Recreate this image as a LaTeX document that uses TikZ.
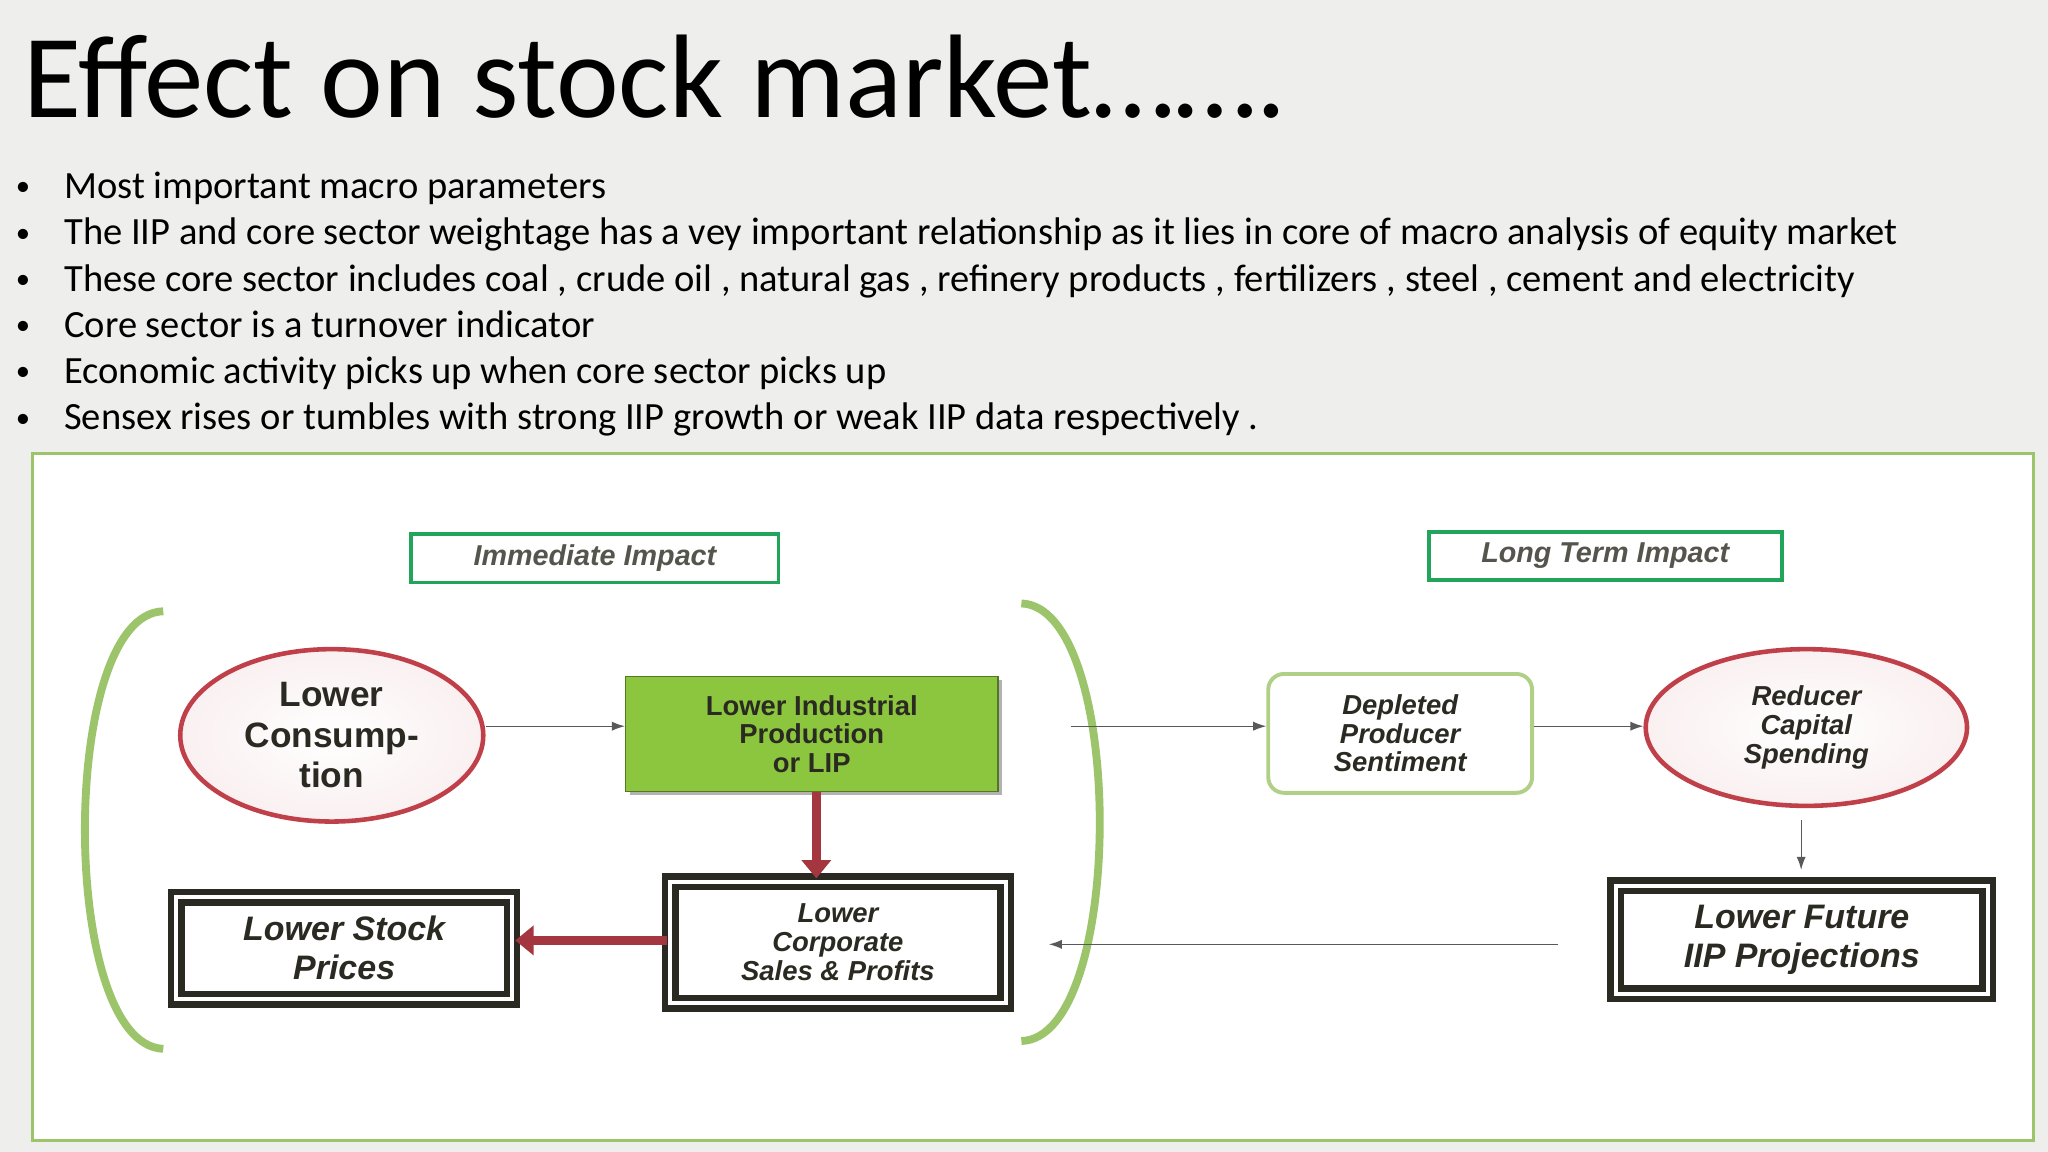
\documentclass[tikz,border=0pt]{standalone}
\usepackage{fontspec}
\setmainfont{Carlito}
\newfontfamily\dia{Liberation Sans}
\usetikzlibrary{shapes.geometric,arrows.meta,shadows}
\definecolor{bg}{HTML}{EEEEEC}
\definecolor{pg}{HTML}{9CC46A}
\definecolor{tg}{HTML}{22A55A}
\definecolor{rd}{HTML}{C0404A}
\definecolor{lg}{HTML}{8CC63F}
\definecolor{dk}{HTML}{2A2A22}
\tikzset{
 bul/.style={anchor=base west,font=\fontsize{29.5}{32}\selectfont,inner sep=0},
 tag/.style={draw=tg,line width=3pt,fill=white,font=\dia\bfseries\itshape\fontsize{22}{24}\selectfont,text=dk!80,inner sep=0},
 circ/.style={ellipse,draw=rd,line width=3.5pt,inner color=white,outer color=rd!8,font=\dia\bfseries\fontsize{27}{31}\selectfont,align=center,text=dk,inner sep=0},
 frame/.style={draw=dk,line width=5pt,double=white,double distance=3pt,fill=white,align=center,font=\dia\bfseries\itshape\fontsize{26}{30}\selectfont,text=dk,inner sep=0},
 thin/.style={-{Latex[length=10pt,width=7pt]},draw=gray!70!black,line width=1pt},
 red/.style={-{Triangle[length=14pt,width=22pt]},draw=rd!85!black,line width=7pt},
 brk/.style={draw=pg,line width=6pt},
}
\begin{document}
\begin{tikzpicture}[x=1pt,y=-1pt]
\useasboundingbox (0,0) rectangle (1568,882);
\fill[bg] (0,0) rectangle (1568,882);
\node[anchor=base west,inner sep=0,font=\fontsize{91}{96}\selectfont] (title) at (18,90) {Effect on stock market…….};
\foreach \t [count=\i] in {Most important macro parameters,The IIP and core sector weightage has a vey important relationship as it lies in core of macro analysis of equity market,{These core sector includes coal , crude oil , natural gas , refinery products , fertilizers , steel , cement and electricity},Core sector is a turnover indicator,Economic activity picks up when core sector picks up,Sensex rises or tumbles with strong IIP growth or weak IIP data respectively .}{
 \node[bul] (b\i) at (49,{143+(\i-1)*35.4+9}) {\t};
 \node[bul,font=\fontsize{22}{24}\selectfont] at (12,{143+(\i-1)*35.4+7}) {•};
}
\draw[pg,line width=2.5pt,fill=white] (25,347) rectangle (1557,873);
\node[tag,minimum width=281pt,minimum height=37pt] (ii) at (455.5,427.5) {Immediate Impact};
\node[tag,minimum width=270pt,minimum height=37pt] (lt) at (1229,425.5) {Long Term Impact};
\draw[brk] (125,468) .. controls (45,470) and (45,800) .. (125,803);
\draw[brk] (782,462) .. controls (862,465) and (862,795) .. (782,797);
\node[circ,minimum width=232pt,minimum height=132pt] (lc) at (254,563) {Lower\\Consump-\\tion};
\node[draw=lg!60!black,line width=1pt,fill=lg,minimum width=285pt,minimum height=88pt,align=center,font=\dia\bfseries\fontsize{21}{22}\selectfont,text=dk,drop shadow={shadow xshift=3pt,shadow yshift=-3pt,opacity=.6}] (lip) at (621.5,562) {Lower Industrial\\Production\\or LIP};
\node[frame,minimum width=257pt,minimum height=93pt,font=\dia\bfseries\itshape\fontsize{21}{22}\selectfont] (lcs) at (641.5,721.5) {Lower\\Corporate\\Sales \& Profits};
\node[frame,minimum width=257pt,minimum height=78pt] (lsp) at (263.5,726) {Lower Stock\\Prices};
\node[draw=pg!80,line width=3pt,rounded corners=12pt,fill=white,minimum width=202pt,minimum height=91pt,align=center,font=\dia\bfseries\itshape\fontsize{21}{22}\selectfont,text=dk] (dps) at (1072,561.5) {Depleted\\Producer\\Sentiment};
\node[circ,minimum width=246pt,minimum height=120pt,font=\dia\bfseries\itshape\fontsize{21}{22}\selectfont] (rcs) at (1383,557) {Reducer\\Capital\\Spending};
\node[frame,minimum width=285pt,minimum height=83pt] (lfp) at (1379.5,719.5) {Lower Future\\IIP Projections};
\coordinate (r1) at (820,556);
\coordinate (r2) at (803,723);
\coordinate (r3) at (1193,723);
\coordinate (h1) at (0,556);
\coordinate (h2) at (0,720);
\coordinate (v1) at (625,0);
\draw[thin] (lc.east |- h1) -- (lip.west |- h1);
\draw[thin] (r1) -- (dps.west |- r1);
\draw[thin] (dps.east |- r1) -- (rcs.west |- r1);
\draw[thin] (1379,628) -- (1379,666);
\draw[thin] (r3) -- (r2);
\draw[red] (v1 |- lip.south) -- (v1 |- lcs.north);
\draw[red] (lcs.west |- h2) -- (lsp.east |- h2);
\end{tikzpicture}
\end{document}
